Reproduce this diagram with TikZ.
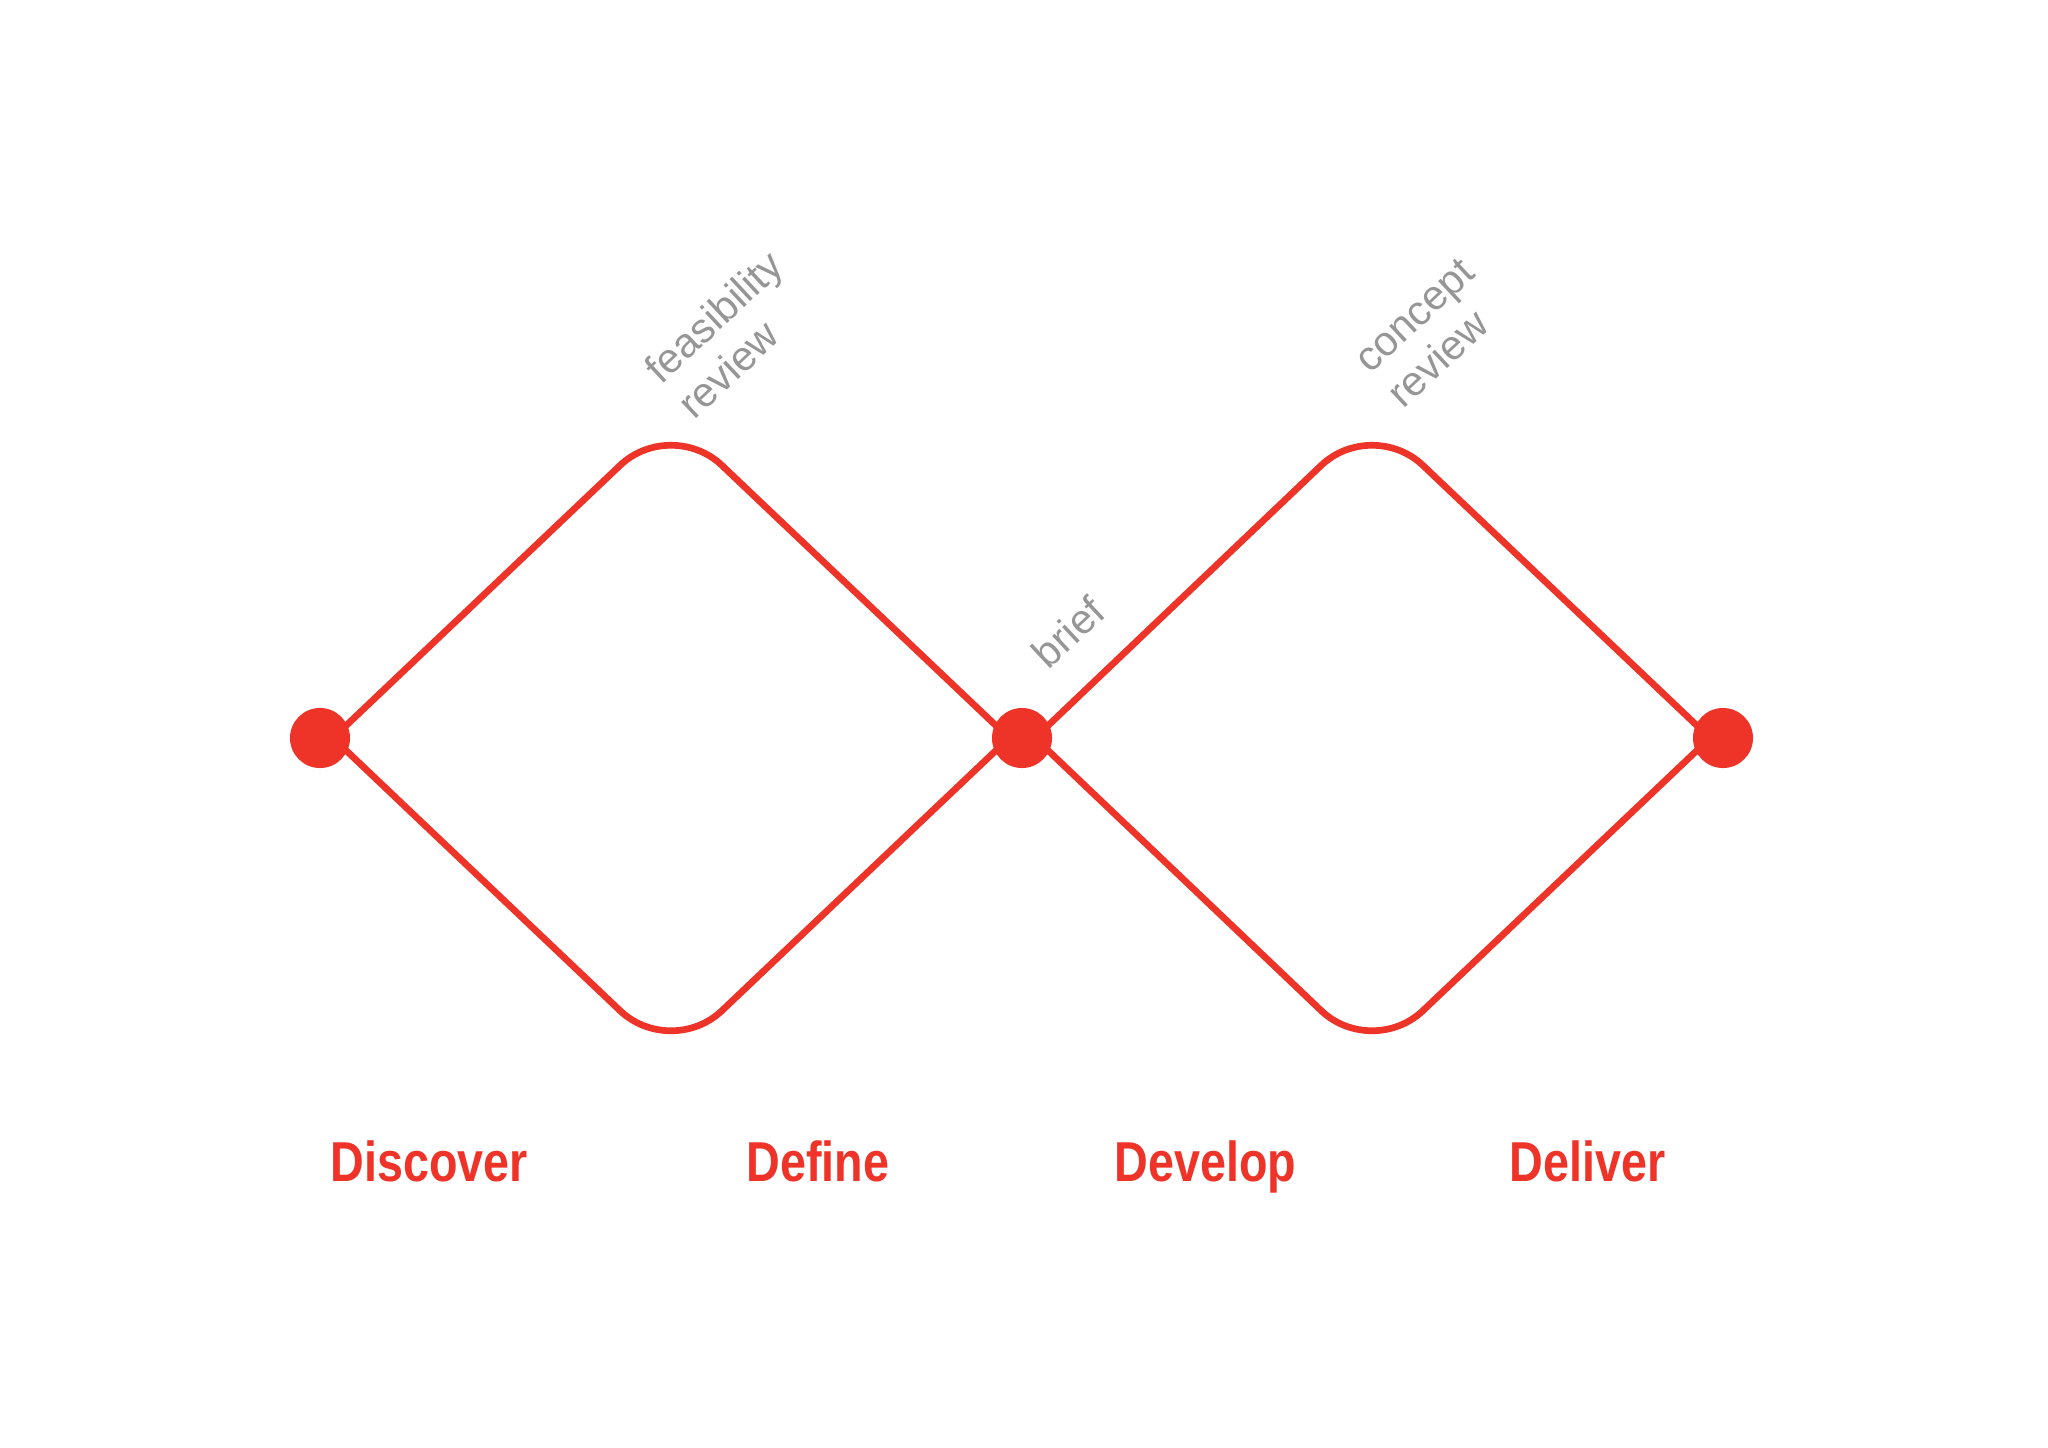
\documentclass[tikz,border=0pt]{standalone}
\usepackage{fontspec}
\setmainfont{Liberation Sans}
\newfontfamily\phasefont[FakeStretch=0.83]{Liberation Sans Bold}
\definecolor{ddred}{RGB}{238,52,40}
\definecolor{ddgray}{RGB}{150,150,150}
\begin{document}
\begin{tikzpicture}[x=0.01cm,y=-0.01cm,
  dot/.style={circle,fill=ddred,inner sep=0pt,minimum size=0.6cm},
  edge/.style={draw=ddred,line width=1.9pt,line join=round},
  phase/.style={text=ddred,font=\phasefont\fontsize{16}{18}\selectfont,anchor=base west,inner sep=0pt},
  note/.style={text=ddgray,font=\fontsize{11.8}{13.7}\selectfont,align=left,rotate=43,inner sep=0pt}]
\useasboundingbox (0,0) rectangle (2048,1447);
\fill[white] (0,0) rectangle (2048,1447);
% diamond corners
\coordinate (L1) at (333,738);
\coordinate (T1) at (671,417);
\coordinate (R1) at (1009,738);
\coordinate (B1) at (671,1059);
\coordinate (L2) at (1035,738);
\coordinate (T2) at (1372,417);
\coordinate (R2) at (1710,738);
\coordinate (B2) at (1372,1059);
% diamonds
\draw[edge] (L1) [rounded corners=0.7cm] -- (T1) -- (R1);
\draw[edge] (L1) [rounded corners=0.7cm] -- (B1) -- (R1);
\draw[edge] (L2) [rounded corners=0.7cm] -- (T2) -- (R2);
\draw[edge] (L2) [rounded corners=0.7cm] -- (B2) -- (R2);
% dots
\node[dot] (d1) at (320,738) {};
\node[dot] (d2) at (1022,738) {};
\node[dot] (d3) at (1723,738) {};
% notes
\node[note] (feas) at (730,334) {feasibility\\review};
\node[note] (brief) at (1068,632) {brief};
\node[note] (conc) at (1431,333) {concept\\review};
% phases
\node[phase] (disc) at (330,1181) {Discover};
\node[phase] (defi) at (746,1181) {Define};
\node[phase] (deve) at (1114,1181) {Develop};
\node[phase] (deli) at (1509,1181) {Deliver};
\end{tikzpicture}
\end{document}
